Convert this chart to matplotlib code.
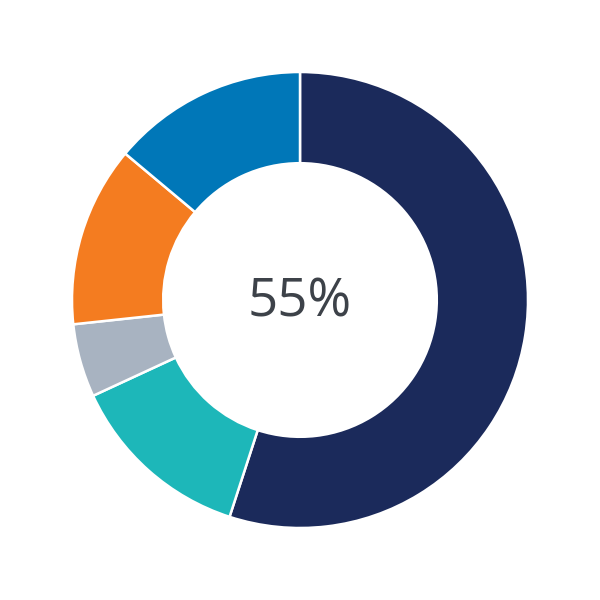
import matplotlib.pyplot as plt

# slice shares, clockwise from the top
labels = ['Navy', 'Teal', 'Gray', 'Orange', 'Blue']
values = [55, 13.1, 5.2, 12.8, 13.9]
colors = ['#1b2a5b', '#1db7b9', '#a8b3c1', '#f47c20', '#0077b8']
center_text = '55%'

fig = plt.figure(figsize=(6, 6), dpi=100)
ax = fig.add_axes([0, 0, 1, 1])
ax.pie(values, colors=colors, startangle=90, counterclock=False,
       radius=1.0, wedgeprops=dict(width=0.40, edgecolor='white', linewidth=1.8))
ax.text(0, -0.01, center_text, ha='center', va='center', fontsize=38,
        color='#3d4249', family='Open Sans')
lim = 300 / 228
ax.set_xlim(-lim, lim)
ax.set_ylim(-lim, lim)
ax.set_aspect('equal')
ax.axis('off')
fig.savefig('out.png', dpi=100, facecolor='white')
